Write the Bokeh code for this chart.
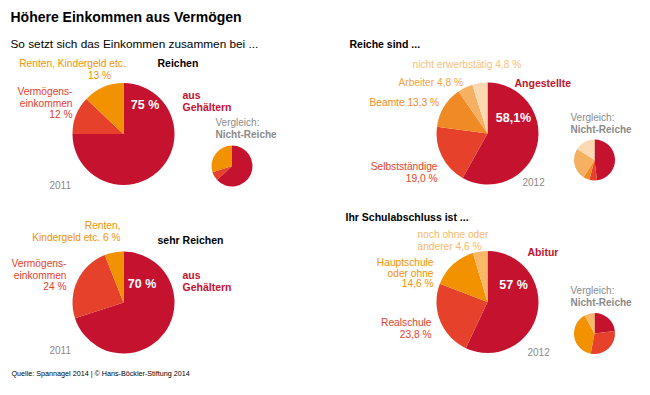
import math
from bokeh.plotting import figure
from bokeh.models import Range1d
from bokeh.embed import file_html
from bokeh.resources import INLINE
from bokeh.core.properties import value

# ---------------- data ----------------
income_labels = ["aus Gehältern", "Vermögenseinkommen", "Renten, Kindergeld etc."]
reichen_vals = [75, 12, 13]
nicht_reiche_income_vals = [63, 7, 30]
sehr_reichen_vals = [70, 24, 6]

job_labels = ["Angestellte", "Selbstständige", "Beamte", "Arbeiter", "nicht erwerbstätig"]
reiche_job_vals = [58.1, 19.0, 13.3, 4.8, 4.8]
nicht_reiche_job_vals = [48, 6, 5, 25, 16]

school_labels = ["Abitur", "Realschule", "Hauptschule oder ohne", "noch ohne oder anderer"]
reiche_school_vals = [57, 23.8, 14.6, 4.6]
nicht_reiche_school_vals = [23, 30, 39, 8]

# ---------------- styles ----------------
RED = "#c4122f"
REDOR = "#e5412b"
ORANGE = "#f39200"
BEAMTE = "#f08a24"
ARBEITER = "#f6b062"
NICHT = "#fcd9b0"
LIGHT = "#f8b868"
GRAY = "#8a8a8a"
FONT = "Liberation Sans"

income_colors = [RED, REDOR, ORANGE]
job_colors = [RED, REDOR, BEAMTE, ARBEITER, NICHT]
school_colors = [RED, REDOR, ORANGE, LIGHT]

W, H = 634, 379
p = figure(width=W, height=H, output_backend="svg", toolbar_location=None,
           x_range=Range1d(0, W), y_range=Range1d(0, H),
           min_border=0, border_fill_color="white", background_fill_color="white")
p.outline_line_color = None
p.axis.visible = False
p.grid.visible = False


def Y(y):
    # convert pixel y (from top) to data y
    return H - y


def pie(cx, cy, r, vals, colors):
    total = float(sum(vals))
    cum = 0.0
    starts, ends = [], []
    for v in vals:
        f = v / total
        ends.append(math.pi / 2 - 2 * math.pi * cum)
        starts.append(math.pi / 2 - 2 * math.pi * (cum + f))
        cum += f
    p.wedge(x=[cx] * len(vals), y=[Y(cy)] * len(vals), radius=r,
            start_angle=starts, end_angle=ends,
            direction="anticlock", fill_color=colors, line_color=None)


def txt(x, y, s, color="#000000", size=10, bold=False, align="left"):
    p.text(x=[x], y=[Y(y)], text=[s], text_color=color,
           text_font=value(FONT), text_font_size=f"{size}px",
           text_font_style="bold" if bold else "normal",
           text_align=align, text_baseline="middle")


def lines(x, y0, dy, items, color, size=10, bold=False, align="left"):
    for i, s in enumerate(items):
        txt(x, y0 + i * dy, s, color, size, bold, align)


def pct(v):
    return f"{v:.1f}".replace(".", ",")


# ---------------- titles ----------------
txt(10, 16, "Höhere Einkommen aus Vermögen", "#000000", 14, True)
txt(10, 43, "So setzt sich das Einkommen zusammen bei ...", "#000000", 11.8)

# ---------------- Reichen ----------------
pie(123, 133.5, 51, reichen_vals, income_colors)
pie(231.5, 165.5, 20.5, nicht_reiche_income_vals, income_colors)
txt(157, 62, "Reichen", "#000000", 10.5, True)
txt(72, 63, "Renten, Kindergeld etc.", ORANGE, 10.2, align="center")
txt(99, 75, f"{reichen_vals[2]} %", ORANGE, 10.2, align="center")
lines(72, 91, 11.5, ["Vermögens-", "einkommen", f"{reichen_vals[1]} %"], REDOR, 10.2, align="right")
txt(144.5, 104, f"{reichen_vals[0]} %", "white", 12.5, True, align="center")
lines(182, 94, 12, ["aus", "Gehältern"], RED, 10.5, True)
txt(215, 122, "Vergleich:", GRAY, 10)
txt(215, 134, "Nicht-Reiche", GRAY, 10, True)
txt(49, 184, "2011", GRAY, 10)

# ---------------- sehr Reichen ----------------
pie(123, 302, 51, sehr_reichen_vals, income_colors)
txt(157, 239, "sehr Reichen", "#000000", 10.5, True)
lines(120, 225, 12, ["Renten,", f"Kindergeld etc. {sehr_reichen_vals[2]} %"], ORANGE, 10.2, align="right")
lines(66, 263, 11.5, ["Vermögens-", "einkommen", f"{sehr_reichen_vals[1]} %"], REDOR, 10.2, align="right")
txt(141.5, 283, f"{sehr_reichen_vals[0]} %", "white", 12.5, True, align="center")
lines(182, 274, 12, ["aus", "Gehältern"], RED, 10.5, True)
txt(49, 349, "2011", GRAY, 10)

# ---------------- Reiche sind ----------------
pie(487, 133, 51, reiche_job_vals, job_colors)
pie(594, 159.5, 20.5, nicht_reiche_job_vals, job_colors)
txt(349, 43, "Reiche sind ...", "#000000", 10.5, True)
txt(412, 64, f"{job_labels[4]} {pct(reiche_job_vals[4])} %", "#f8c07c", 10.2)
txt(398, 82, f"{job_labels[3]} {pct(reiche_job_vals[3])} %", "#f3a347", 10.2)
txt(369, 102, f"{job_labels[2]} {pct(reiche_job_vals[2])} %", BEAMTE, 10.2)
txt(514, 82, job_labels[0], RED, 10.5, True)
txt(513, 117, f"{pct(reiche_job_vals[0])}%", "white", 12.5, True, align="center")
lines(437, 166, 11.5, [job_labels[1], f"{pct(reiche_job_vals[1])} %"], REDOR, 10.2, align="right")
txt(522, 181, "2012", GRAY, 10)
txt(570, 117, "Vergleich:", GRAY, 10)
txt(570, 129, "Nicht-Reiche", GRAY, 10, True)

# ---------------- Schulabschluss ----------------
pie(487, 301.5, 51, reiche_school_vals, school_colors)
pie(594, 333, 20.5, nicht_reiche_school_vals, school_colors)
txt(345, 216, "Ihr Schulabschluss ist ...", "#000000", 10.5, True)
lines(417, 234, 11.5, ["noch ohne oder", f"anderer {pct(reiche_school_vals[3])} %"], LIGHT, 10.2)
lines(433, 262, 10.7, ["Hauptschule", "oder ohne", f"{pct(reiche_school_vals[2])} %"], ORANGE, 10.2, align="right")
txt(527, 251, school_labels[0], RED, 10.5, True)
txt(513, 284, f"{reiche_school_vals[0]} %", "white", 12.5, True, align="center")
lines(431, 322, 11.5, [school_labels[1], f"{pct(reiche_school_vals[1])} %"], REDOR, 10.2, align="right")
txt(527, 351, "2012", GRAY, 10)
txt(570, 290, "Vergleich:", GRAY, 10)
txt(570, 302, "Nicht-Reiche", GRAY, 10, True)

# ---------------- source ----------------
txt(11, 373, "Quelle: Spannagel 2014 | © Hans-Böckler-Stiftung 2014", "#000000", 7.2)

open("out.html", "w").write(file_html(p, INLINE))
